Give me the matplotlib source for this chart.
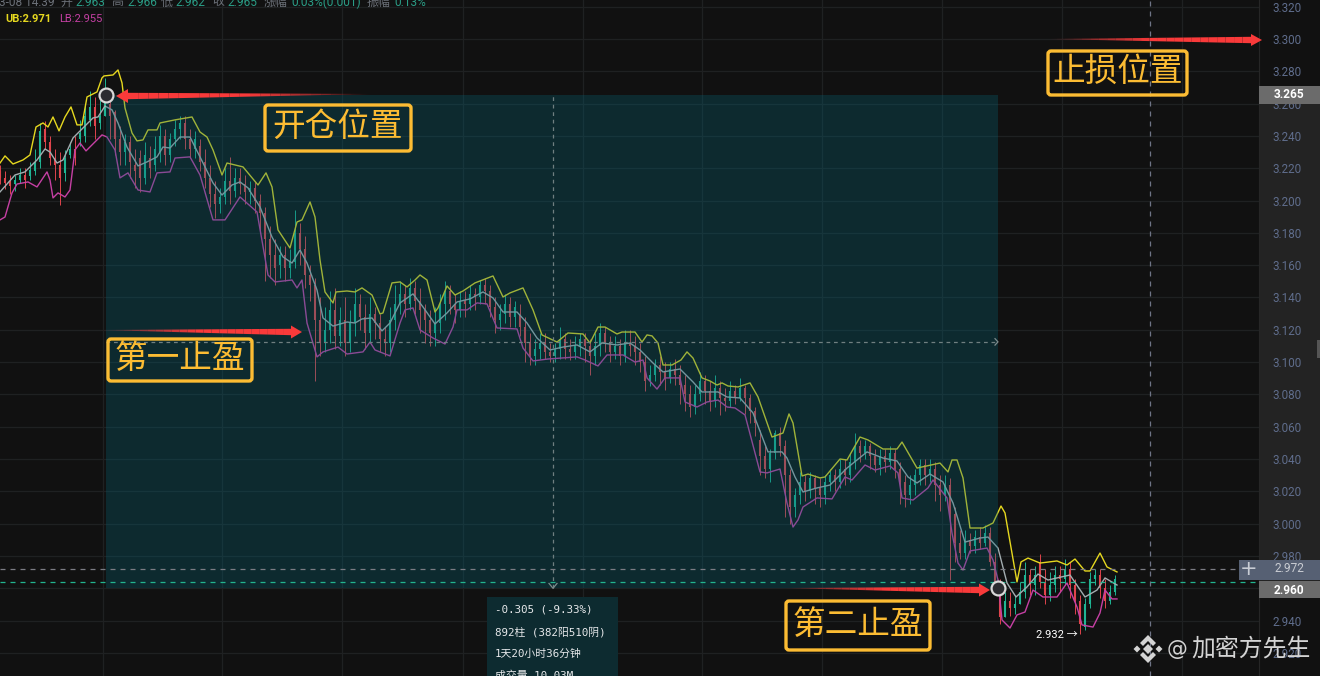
# Price chart with a short position drawn on it: entry, stop and two take profits
from matplotlib import pyplot as plt
from matplotlib.patches import Rectangle, FancyBboxPatch, Polygon
from matplotlib.transforms import Affine2D
import numpy as np

entry_bar, exit_bar = 106, 998
entry_price, exit_price = 3.265, 2.960
cross_price, last_price = 2.972, 2.964
cross_bar = 1150

upper_x = [0, 5, 13, 23, 30, 36, 43, 48, 53, 59, 65, 71, 77, 82, 87, 97, 102, 104, 113, 118, 122, 125, 132, 137, 143,
           148, 157, 160, 175, 192, 200, 207, 213, 222, 227, 243, 258, 266, 272, 278, 290, 297, 302, 310, 315, 320,
           325, 333, 336, 347, 355, 362, 372, 380, 383, 392, 400, 407, 415, 420, 427, 435, 438, 447, 455, 463, 475,
           493, 503, 510, 523, 533, 542, 557, 568, 583, 590, 598, 605, 617, 622, 635, 642, 647, 652, 658, 663, 672,
           681, 687, 693, 702, 710, 717, 722, 728, 738, 750, 758, 772, 783, 789, 793, 802, 808, 820, 825, 840, 847,
           860, 868, 883, 897, 902, 917, 940, 948, 952, 957, 963, 970, 983, 993, 1001, 1005, 1017, 1021, 1028, 1040,
           1057, 1067, 1075, 1085, 1090, 1100, 1107, 1117]
upper_band = [3.2232, 3.2276, 3.2226, 3.2251, 3.2282, 3.2455, 3.248, 3.2455, 3.2517, 3.2431, 3.2517, 3.2579, 3.2468,
              3.2468, 3.2641, 3.2672, 3.2759, 3.2771, 3.2777, 3.2808, 3.2728, 3.2573, 3.2418, 3.2369, 3.2375,
              3.2437, 3.2437, 3.248, 3.2499, 3.2517, 3.2424, 3.2393, 3.2313, 3.2158, 3.2232, 3.2208, 3.2096, 3.2171,
              3.2084, 3.1818, 3.1706, 3.1867, 3.188, 3.1991, 3.1898, 3.1632,
              3.1434, 3.1366, 3.1434, 3.144, 3.1434, 3.1459, 3.1415, 3.1298, 3.1304, 3.149, 3.1496, 3.1465, 3.1508,
              3.1539, 3.1508, 3.131, 3.1335, 3.1471, 3.1415, 3.144, 3.149,
              3.1533, 3.1403, 3.1428, 3.1459, 3.1323, 3.1168, 3.1124, 3.118, 3.1174, 3.1118, 3.1217, 3.1217, 3.1174,
              3.1186, 3.1186, 3.1124, 3.1168, 3.1162, 3.1118, 3.0982, 3.0982,
              3.1013, 3.1063, 3.1025, 3.0902, 3.0883, 3.0858, 3.0871, 3.0852, 3.0846, 3.0871, 3.0784, 3.0536, 3.0561,
              3.0679, 3.0623, 3.0295, 3.0307, 3.0283, 3.0289, 3.04, 3.0394,
              3.0536, 3.0518, 3.0462, 3.0462, 3.0505, 3.0344, 3.0375, 3.032, 3.0394, 3.0394, 3.0283, 2.9973, 2.9973,
              3.0004, 3.0109, 3.0066, 2.9639, 2.9763, 2.9787, 2.9756,
              2.9769, 2.9744, 2.9781, 2.9707, 2.9707, 2.9818, 2.9732, 2.9701]

middle_x = [0, 15, 25, 37, 45, 50, 57, 63, 73, 83, 93, 98, 105, 112, 118, 127, 138, 147, 157, 163, 170, 180, 190, 200,
            213, 222, 232, 240, 248, 260, 272, 283, 292, 300, 307, 317, 323, 333, 347, 355, 362, 372, 382, 390, 400,
            413, 423, 435, 447, 457, 470, 483, 493, 503, 517, 527, 537, 550, 563, 577, 590, 602, 617, 630, 640, 653,
            663, 680, 693, 702, 718, 727, 740, 753, 768, 782, 787, 795, 803, 817, 830, 847, 867, 883, 897, 908, 917,
            930, 943, 953, 965, 980, 988, 998, 1007, 1016, 1027, 1038, 1048, 1057, 1070, 1085, 1097, 1105, 1117]
middle_band = [3.2053, 3.2158, 3.2177, 3.2251, 3.2319, 3.23, 3.2232, 3.2251, 3.2387, 3.2449, 3.2511, 3.2517, 3.2585,
               3.2561, 3.248, 3.2331, 3.2214, 3.2239, 3.227, 3.2331, 3.2325, 3.2393, 3.2393, 3.227,
               3.2109, 3.2034, 3.2096, 3.2115, 3.2078, 3.196, 3.1774, 3.1651, 3.1613, 3.1694, 3.1613, 3.1446, 3.1273,
               3.1223, 3.1248, 3.1242, 3.1267, 3.1273, 3.1193, 3.1242, 3.1366,
               3.1422, 3.1341, 3.1236, 3.1304, 3.1372, 3.1391, 3.1434, 3.1397, 3.131, 3.131, 3.1242, 3.1149, 3.1075,
               3.1093, 3.1106, 3.1063, 3.1118, 3.1106, 3.1118, 3.1075, 3.0994,
               3.0939, 3.0957, 3.0877, 3.0815, 3.0815, 3.0784, 3.0778, 3.0685, 3.0444, 3.0444, 3.0406, 3.0289, 3.0196,
               3.0221, 3.0239, 3.0344, 3.0444, 3.0406, 3.0388, 3.0289, 3.0252,
               3.0307, 3.0258, 3.0128, 2.9886, 2.9911, 2.9917, 2.9849, 2.9633, 2.9546, 2.9608, 2.9688, 2.9651, 2.9664,
               2.9682, 2.9546, 2.9589, 2.9664, 2.962]

lower_x = [0, 5, 12, 17, 28, 37, 47, 50, 53, 58, 65, 70, 75, 80, 86, 102, 107, 115, 120, 128, 138, 150, 157, 170, 175,
           190, 200, 213, 225, 240, 257, 268, 275, 292, 297, 302, 307, 317, 323, 338, 347, 363, 370, 375, 390, 400,
           405, 413, 420, 433, 445, 453, 457, 467, 477, 487, 497, 517, 523, 533, 548, 577, 585, 598, 607, 623, 635,
           643, 647, 657, 665, 680, 685, 697, 707, 718, 727, 735, 745, 760, 767, 780, 787, 793, 798, 803, 817, 832,
           845, 852, 865, 875, 890, 898, 902, 913, 928, 933, 947, 952, 958, 963, 970, 987, 993, 998, 1002, 1010, 1017,
           1025, 1033, 1043, 1057, 1067, 1077, 1082, 1093, 1100, 1105, 1112, 1117]
lower_band = [3.188, 3.1898, 3.2047, 3.2102, 3.2115, 3.2084, 3.2177, 3.2127, 3.2016, 3.2047, 3.2022, 3.2065, 3.2313,
              3.2356, 3.2307, 3.2406, 3.2393, 3.2313, 3.214, 3.2171, 3.2065, 3.2053, 3.2171, 3.2177, 3.2263,
              3.227, 3.2158, 3.188, 3.188, 3.2022, 3.1929, 3.1539, 3.1496, 3.1508, 3.1459, 3.1508, 3.1242, 3.1032,
              3.1063, 3.1093, 3.105, 3.1063, 3.1124, 3.1075, 3.1038, 3.1242,
              3.1323, 3.1335, 3.1199, 3.1149, 3.1112, 3.1217, 3.1323, 3.1323, 3.1366, 3.136, 3.1211, 3.1205, 3.1087,
              3.1007, 3.1019, 3.1032, 3.1013, 3.0976, 3.1044, 3.1044, 3.1,
              3.1013, 3.0902, 3.0833, 3.0902, 3.0902, 3.0753, 3.0722, 3.0753, 3.0765, 3.0722, 3.0716, 3.0673, 3.032,
              3.0314, 3.0338, 3.0128, 2.9979, 3.0023, 3.0103, 3.0159, 3.0153,
              3.0289, 3.027, 3.0363, 3.0332, 3.0357, 3.0314, 3.0159, 3.0146, 3.0221, 3.027, 3.0159, 2.9942, 2.9756,
              2.9713, 2.9831, 2.9849, 2.9775, 2.9651, 2.9404, 2.9354, 2.9435,
              2.9453, 2.9589, 2.9546, 2.9546, 2.9633, 2.9484, 2.9373, 2.936, 2.9447, 2.9589, 2.9534, 2.9534]

# one candle every 5 bars, 8 to a row
opens = [3.218, 3.214, 3.212, 3.210, 3.213, 3.216, 3.215, 3.218,
         3.224, 3.244, 3.236, 3.226, 3.222, 3.217, 3.228, 3.232,
         3.238, 3.240, 3.250, 3.258, 3.248, 3.252, 3.260, 3.255,
         3.238, 3.230, 3.236, 3.222, 3.226, 3.214, 3.226, 3.222,
         3.230, 3.240, 3.228, 3.238, 3.244, 3.248, 3.238, 3.232,
         3.234, 3.224, 3.214, 3.204, 3.198, 3.202, 3.212, 3.206,
         3.214, 3.210, 3.205, 3.208, 3.200, 3.192, 3.176, 3.166,
         3.160, 3.166, 3.158, 3.162, 3.180, 3.170, 3.154, 3.148,
         3.126, 3.112, 3.120, 3.132, 3.116, 3.126, 3.112, 3.124,
         3.136, 3.128, 3.118, 3.130, 3.124, 3.114, 3.112, 3.126,
         3.136, 3.142, 3.136, 3.146, 3.138, 3.132, 3.126, 3.118,
         3.124, 3.136, 3.144, 3.136, 3.132, 3.138, 3.136, 3.142,
         3.140, 3.148, 3.144, 3.134, 3.126, 3.130, 3.136, 3.128,
         3.130, 3.122, 3.112, 3.104, 3.108, 3.112, 3.106, 3.104,
         3.108, 3.114, 3.108, 3.106, 3.110, 3.114, 3.110, 3.104,
         3.110, 3.118, 3.112, 3.106, 3.110, 3.104, 3.112, 3.110,
         3.106, 3.100, 3.088, 3.092, 3.098, 3.094, 3.090, 3.096,
         3.092, 3.086, 3.080, 3.072, 3.080, 3.088, 3.082, 3.076,
         3.084, 3.078, 3.076, 3.082, 3.078, 3.084, 3.078, 3.070,
         3.052, 3.042, 3.034, 3.044, 3.056, 3.048, 3.030, 3.010,
         3.018, 3.026, 3.020, 3.028, 3.022, 3.018, 3.026, 3.030,
         3.026, 3.034, 3.030, 3.038, 3.048, 3.044, 3.048, 3.042,
         3.036, 3.042, 3.038, 3.044, 3.034, 3.026, 3.018, 3.024,
         3.030, 3.036, 3.030, 3.034, 3.024, 3.018, 3.024, 3.006,
         2.988, 2.982, 2.990, 2.986, 2.992, 2.988, 2.994, 2.976,
         2.964, 2.942, 2.952, 2.948, 2.950, 2.958, 2.968, 2.962,
         2.976, 2.964, 2.956, 2.962, 2.968, 2.966, 2.972, 2.962,
         2.952, 2.936, 2.950, 2.966, 2.968, 2.960, 2.952, 2.958]
closes = [3.214, 3.211, 3.209, 3.213, 3.216, 3.213, 3.219, 3.224,
          3.243, 3.236, 3.226, 3.222, 3.214, 3.226, 3.232, 3.226,
          3.242, 3.252, 3.258, 3.246, 3.252, 3.264, 3.252, 3.238,
          3.230, 3.236, 3.224, 3.218, 3.214, 3.228, 3.220, 3.232,
          3.240, 3.228, 3.238, 3.244, 3.248, 3.238, 3.232, 3.238,
          3.224, 3.214, 3.204, 3.198, 3.202, 3.212, 3.206, 3.214,
          3.210, 3.205, 3.208, 3.200, 3.192, 3.176, 3.166, 3.158,
          3.166, 3.158, 3.162, 3.180, 3.170, 3.154, 3.148, 3.126,
          3.112, 3.120, 3.132, 3.116, 3.126, 3.112, 3.124, 3.136,
          3.128, 3.118, 3.130, 3.124, 3.114, 3.112, 3.126, 3.136,
          3.142, 3.136, 3.146, 3.138, 3.132, 3.126, 3.118, 3.124,
          3.136, 3.144, 3.136, 3.132, 3.138, 3.136, 3.142, 3.140,
          3.148, 3.144, 3.134, 3.126, 3.130, 3.136, 3.128, 3.134,
          3.122, 3.112, 3.104, 3.108, 3.112, 3.106, 3.104, 3.108,
          3.114, 3.108, 3.106, 3.110, 3.114, 3.110, 3.104, 3.110,
          3.118, 3.112, 3.106, 3.110, 3.104, 3.112, 3.110, 3.106,
          3.100, 3.088, 3.092, 3.098, 3.094, 3.090, 3.096, 3.092,
          3.086, 3.080, 3.072, 3.080, 3.088, 3.082, 3.076, 3.084,
          3.078, 3.076, 3.082, 3.078, 3.084, 3.078, 3.070, 3.062,
          3.042, 3.034, 3.044, 3.056, 3.048, 3.030, 3.010, 3.018,
          3.026, 3.020, 3.028, 3.022, 3.018, 3.026, 3.030, 3.026,
          3.034, 3.030, 3.038, 3.048, 3.044, 3.048, 3.042, 3.036,
          3.042, 3.038, 3.044, 3.034, 3.026, 3.018, 3.024, 3.030,
          3.036, 3.030, 3.034, 3.024, 3.018, 3.024, 3.006, 2.988,
          2.982, 2.990, 2.986, 2.992, 2.988, 2.994, 2.976, 2.964,
          2.942, 2.952, 2.948, 2.950, 2.958, 2.968, 2.962, 2.968,
          2.964, 2.956, 2.962, 2.968, 2.966, 2.972, 2.962, 2.952,
          2.938, 2.950, 2.966, 2.968, 2.960, 2.952, 2.958, 2.966]
highs = [3.222, 3.218, 3.216, 3.216, 3.220, 3.220, 3.224, 3.232,
         3.248, 3.249, 3.240, 3.232, 3.230, 3.231, 3.236, 3.240,
         3.250, 3.260, 3.268, 3.264, 3.262, 3.276, 3.262, 3.256,
         3.246, 3.241, 3.240, 3.232, 3.231, 3.236, 3.234, 3.240,
         3.247, 3.244, 3.242, 3.250, 3.252, 3.252, 3.244, 3.243,
         3.238, 3.232, 3.222, 3.212, 3.208, 3.220, 3.227, 3.220,
         3.220, 3.216, 3.212, 3.212, 3.204, 3.196, 3.184, 3.176,
         3.172, 3.172, 3.170, 3.194, 3.186, 3.178, 3.160, 3.152,
         3.140, 3.134, 3.144, 3.146, 3.134, 3.140, 3.132, 3.146,
         3.142, 3.136, 3.140, 3.134, 3.130, 3.122, 3.134, 3.148,
         3.150, 3.148, 3.152, 3.150, 3.146, 3.136, 3.132, 3.134,
         3.142, 3.150, 3.148, 3.142, 3.144, 3.144, 3.148, 3.146,
         3.151, 3.152, 3.148, 3.140, 3.136, 3.142, 3.140, 3.138,
         3.136, 3.128, 3.118, 3.114, 3.118, 3.118, 3.112, 3.112,
         3.122, 3.118, 3.114, 3.116, 3.118, 3.118, 3.114, 3.118,
         3.124, 3.122, 3.116, 3.116, 3.114, 3.120, 3.120, 3.116,
         3.112, 3.104, 3.098, 3.102, 3.104, 3.100, 3.100, 3.102,
         3.098, 3.092, 3.086, 3.086, 3.094, 3.092, 3.088, 3.092,
         3.088, 3.084, 3.088, 3.086, 3.090, 3.086, 3.080, 3.072,
         3.058, 3.048, 3.046, 3.058, 3.060, 3.052, 3.034, 3.022,
         3.032, 3.030, 3.032, 3.030, 3.028, 3.030, 3.034, 3.034,
         3.040, 3.040, 3.044, 3.056, 3.052, 3.052, 3.050, 3.046,
         3.046, 3.046, 3.048, 3.046, 3.038, 3.030, 3.030, 3.034,
         3.040, 3.040, 3.040, 3.038, 3.030, 3.030, 3.028, 3.010,
         2.996, 2.996, 2.994, 2.996, 2.998, 2.999, 2.998, 2.982,
         2.966, 2.958, 2.958, 2.956, 2.964, 2.976, 2.972, 2.974,
         2.981, 2.972, 2.970, 2.974, 2.974, 2.978, 2.976, 2.966,
         2.956, 2.954, 2.970, 2.972, 2.972, 2.966, 2.962, 2.968]
lows = [3.210, 3.207, 3.204, 3.206, 3.211, 3.208, 3.213, 3.216,
        3.220, 3.232, 3.222, 3.213, 3.197, 3.212, 3.226, 3.222,
        3.234, 3.236, 3.246, 3.238, 3.244, 3.252, 3.238, 3.228,
        3.222, 3.222, 3.214, 3.208, 3.205, 3.210, 3.214, 3.218,
        3.224, 3.222, 3.224, 3.234, 3.238, 3.232, 3.226, 3.226,
        3.218, 3.208, 3.196, 3.189, 3.192, 3.198, 3.198, 3.202,
        3.204, 3.198, 3.198, 3.192, 3.180, 3.150, 3.152, 3.148,
        3.152, 3.150, 3.152, 3.158, 3.160, 3.146, 3.138, 3.088,
        3.104, 3.106, 3.112, 3.108, 3.110, 3.104, 3.106, 3.116,
        3.120, 3.108, 3.112, 3.114, 3.106, 3.104, 3.106, 3.120,
        3.130, 3.128, 3.132, 3.130, 3.118, 3.112, 3.110, 3.110,
        3.118, 3.126, 3.130, 3.124, 3.128, 3.128, 3.132, 3.132,
        3.136, 3.136, 3.128, 3.118, 3.120, 3.124, 3.122, 3.122,
        3.116, 3.100, 3.098, 3.098, 3.102, 3.102, 3.100, 3.100,
        3.102, 3.102, 3.101, 3.102, 3.104, 3.100, 3.092, 3.098,
        3.104, 3.106, 3.100, 3.102, 3.098, 3.100, 3.104, 3.098,
        3.094, 3.082, 3.085, 3.088, 3.086, 3.083, 3.087, 3.086,
        3.074, 3.070, 3.066, 3.068, 3.076, 3.074, 3.070, 3.072,
        3.067, 3.070, 3.072, 3.074, 3.076, 3.068, 3.062, 3.054,
        3.030, 3.028, 3.026, 3.040, 3.042, 3.004, 3.000, 3.004,
        3.012, 3.014, 3.016, 3.012, 3.010, 3.012, 3.020, 3.020,
        3.022, 3.024, 3.026, 3.034, 3.038, 3.040, 3.034, 3.032,
        3.030, 3.032, 3.034, 3.028, 3.012, 3.010, 3.012, 3.018,
        3.024, 3.024, 3.026, 3.014, 3.008, 3.014, 2.965, 2.976,
        2.978, 2.978, 2.982, 2.982, 2.984, 2.986, 2.974, 2.958,
        2.938, 2.942, 2.943, 2.944, 2.950, 2.954, 2.956, 2.956,
        2.960, 2.950, 2.952, 2.958, 2.958, 2.962, 2.954, 2.944,
        2.932, 2.934, 2.948, 2.962, 2.954, 2.948, 2.950, 2.956]

price_ticks = [2.92, 2.94, 2.96, 2.98, 3.00, 3.02, 3.04, 3.06, 3.08, 3.10, 3.12, 3.14, 3.16, 3.18, 3.20, 3.22, 3.24,
               3.26, 3.28, 3.30, 3.32]
time_ticks = [103, 222, 342, 463, 583, 702, 822, 942, 1062, 1182]

BG = '#111111'
GRID = '#1f2122'
GOLD = '#fcbc33'
ARROW = '#f93a3a'
CJK = ['Noto Sans CJK SC', 'DejaVu Sans']

plt.rcParams['font.family'] = ['Roboto', 'Noto Sans CJK SC', 'DejaVu Sans']

fig = plt.figure(figsize=(13.2, 6.76), dpi=100, facecolor=BG)
ax = fig.add_axes([0, 0, 1259 / 1320, 1], facecolor=BG)

# the annotations were placed by image pixel, y going down
px = Affine2D().scale(1, -1).translate(0, 676)


def put_text(x, y, s, color, size, **kw):
    kw.setdefault('va', 'center')
    kw.setdefault('ha', 'left')
    return fig.text(x, y, s, color=color, fontsize=size, transform=px, clip_on=True, **kw)


def put_box(x0, y0, x1, y1, color, z=2):
    fig.add_artist(Rectangle((x0, y0), x1 - x0, y1 - y0, fc=color, ec='none', transform=px, zorder=z))


def put_arrow(tail, tip, head_len, head_half, shaft_half=3.2):
    # shaft gets thicker and more solid toward the head
    (x0, y0), (x1, y1) = tail, tip
    direction = 1 if x1 > x0 else -1
    base = x1 - direction * head_len
    steps = np.linspace(0, 1, 25)
    for a, b in zip(steps[:-1], steps[1:]):
        xa, xb = x0 + (base - x0) * a, x0 + (base - x0) * b
        ya, yb = y0 + (y1 - y0) * a, y0 + (y1 - y0) * b
        poly = [(xa, ya - shaft_half * a), (xb, yb - shaft_half * b), (xb, yb + shaft_half * b), (xa, ya + shaft_half * a)]
        fig.add_artist(Polygon(poly, fc=ARROW, ec='none', alpha=min(1, 0.15 + b * 1.6), transform=px, zorder=4))
    fig.add_artist(Polygon([(base, y1 - head_half), (x1, y1), (base, y1 + head_half)], fc=ARROW, ec='none',
                           transform=px, zorder=4))


def put_label(x0, y0, x1, y1, s):
    fig.add_artist(FancyBboxPatch((x0 + 3, y0 + 3), x1 - x0 - 6, y1 - y0 - 6, boxstyle='round,pad=3,rounding_size=3',
                                  fc='none', ec=GOLD, lw=2.4, transform=px, zorder=4))
    put_text((x0 + x1) / 2, (y0 + y1) / 2 - 1, s, GOLD, 23.5, ha='center', family=CJK, zorder=5)


# grid and price axis
ax.set_yticks(price_ticks)
ax.set_yticklabels(['%.3f' % p for p in price_ticks], color='#5f6d8c', fontsize=8.4)
ax.set_xticks(time_ticks)
ax.tick_params(axis='x', labelbottom=False, length=0)
ax.yaxis.tick_right()
ax.tick_params(axis='y', length=0, pad=10)
ax.grid(True, color=GRID, linewidth=0.9)
ax.set_axisbelow(True)
for side in ['top', 'left', 'bottom']:
    ax.spines[side].set_visible(False)
ax.spines['right'].set_color('#262626')
ax.set_xlim(0, 1259)
ax.set_ylim(2.9057, 3.3241)

# range highlight on the price axis sits behind the tick labels
ax.add_patch(Rectangle((1, exit_price - 0.0045), 61 / 1259, entry_price - exit_price + 0.0045, fc='#232323', ec='none',
                       transform=ax.get_yaxis_transform(), clip_on=False, zorder=0.5))

# candles
candle_bars = np.arange(len(opens)) * 5
opens, closes, highs, lows = map(np.array, (opens, closes, highs, lows))
candle_colors = np.where(closes >= opens, '#1fb594', '#e0444c')
ax.vlines(candle_bars, lows, highs, colors=candle_colors, linewidth=0.7, zorder=2)
ax.vlines(candle_bars, np.minimum(opens, closes), np.maximum(opens, closes), colors=candle_colors, linewidth=1.5, zorder=2)

# bands
ax.plot(upper_x, upper_band, color='#e6d81f', linewidth=1.0, zorder=2.2)
ax.plot(middle_x, middle_band, color='#a3adb0', linewidth=1.0, zorder=2.2)
ax.plot(lower_x, lower_band, color='#c640a4', linewidth=1.0, zorder=2.2)

# short position area tints everything below it
ax.add_patch(Rectangle((entry_bar, exit_price), exit_bar - entry_bar, entry_price - exit_price, fc=(0.02, 0.39, 0.46),
                       ec='none', alpha=0.31, zorder=3))

# measure lines inside the area
mid_bar = (entry_bar + exit_bar) / 2 + 1
mid_price = (entry_price + exit_price) / 2
ax.plot([entry_bar, exit_bar], [mid_price, mid_price], color='#6f7f80', linewidth=0.9, dashes=(3, 3), zorder=3.2)
ax.plot([mid_bar, mid_bar], [exit_price, entry_price], color='#6f7f80', linewidth=0.9, dashes=(3, 3), zorder=3.2)
ax.plot([exit_bar - 3, exit_bar, exit_bar - 3], [mid_price + 0.002, mid_price, mid_price - 0.002], color='#7d8b8c',
        linewidth=0.9, zorder=3.2)
ax.plot([mid_bar - 4, mid_bar, mid_bar + 4], [exit_price + 0.003, exit_price, exit_price + 0.003], color='#7d8b8c',
        linewidth=0.9, zorder=3.2)

# crosshair and last price
ax.axhline(cross_price, color='#7c7c84', linewidth=0.9, dashes=(4, 4), zorder=3.3)
ax.axhline(last_price, color='#22b58f', linewidth=0.9, dashes=(4, 4), zorder=3.3)
ax.axvline(cross_bar, color='#6f7486', linewidth=0.9, dashes=(4, 4), zorder=3.3)

# entry and exit markers
ax.scatter([entry_bar, exit_bar], [entry_price, exit_price], s=100, facecolor='#2b2b30', edgecolor='#d8d8d8',
           linewidth=1.6, zorder=3.6)

# header line, cut off by the top of the picture
header = [(-1, '3-08 14:39', '#6b7078'), (60, '开', '#6b7078'), (75, '2.963', '#2a9d86'), (111, '高', '#6b7078'),
          (127, '2.966', '#2a9d86'), (161, '低', '#6b7078'), (176, '2.962', '#2a9d86'), (212, '收', '#6b7078'),
          (228, '2.965', '#2a9d86'), (264, '涨幅', '#6b7078'), (291, '0.03%(0.001)', '#2a9d86'),
          (367, '振幅', '#6b7078'), (394, '0.13%', '#2a9d86')]
for hx, hs, hc in header:
    put_text(hx, 2, hs, hc, 8.6)
put_text(5, 19, 'UB:2.971', '#e6d81f', 8, fontweight='bold')
put_text(59, 19, 'LB:2.955', '#c640a4', 8)

# price tags
put_box(1259, 86, 1320, 104, '#6b6b6b')
put_text(1289, 95, '3.265', 'white', 8.6, ha='center', fontweight='bold', zorder=3)
put_box(1239, 560, 1259, 580, '#566073')
put_text(1249, 569, '+', '#c8ccd4', 15, ha='center', family='DejaVu Sans', zorder=3)
put_box(1259, 560, 1320, 580, '#566073')
put_text(1289, 569, '2.972', '#c9ccd2', 8.6, ha='center', zorder=3)
put_box(1259, 581, 1320, 598, '#6b6b6b')
put_text(1289, 590, '2.960', 'white', 8.6, ha='center', fontweight='bold', zorder=3)
put_box(1317, 340, 1320, 358, '#555555')

# measure box below the area
put_box(487, 597, 618, 676, '#0d2b30')
for line_y, line in zip([610, 632, 654, 676], ['-0.305 (-9.33%)', '892柱 (382阳510阴)', '1天20小时36分钟', '成交量 10.03M']):
    put_text(495, line_y, line, '#e6e8ea', 7.8, family=['DejaVu Sans Mono', 'Noto Sans CJK SC'], zorder=3)

put_text(1036, 635, '2.932 →', 'white', 8, zorder=3)

# arrows and labels
put_arrow((372, 94), (116, 96), 12, 7)
put_arrow((1048, 39), (1262, 40), 11, 6)
put_arrow((100, 330), (302, 332), 11, 6.5)
put_arrow((785, 588), (990, 590), 11, 6.5)
put_label(265, 105, 411, 151, '开仓位置')
put_label(1048, 51, 1187, 95, '止损位置')
put_label(108, 339, 252, 381, '第一止盈')
put_label(786, 601, 930, 650, '第二止盈')

# watermark
cx, cy = 1148, 649
logo = [[(0, -5), (5, 0), (0, 5), (-5, 0)], [(-11, -3.5), (-7.5, 0), (-11, 3.5), (-14.5, 0)],
        [(11, -3.5), (14.5, 0), (11, 3.5), (7.5, 0)],
        [(0, -14), (8, -6), (5, -3), (0, -8), (-5, -3), (-8, -6)],
        [(0, 14), (8, 6), (5, 3), (0, 8), (-5, 3), (-8, 6)]]
for shape in logo:
    fig.add_artist(Polygon([(cx + a, cy + b) for a, b in shape], fc='#d4d4d4', ec='none', transform=px, zorder=4))
put_text(1167, 649, '@', '#d4d4d4', 15, family='DejaVu Sans', zorder=4)
put_text(1191, 649, '加密方先生', '#d4d4d4', 17.2, family=CJK, zorder=4)

fig.savefig('out.png', dpi=100, facecolor=BG)
